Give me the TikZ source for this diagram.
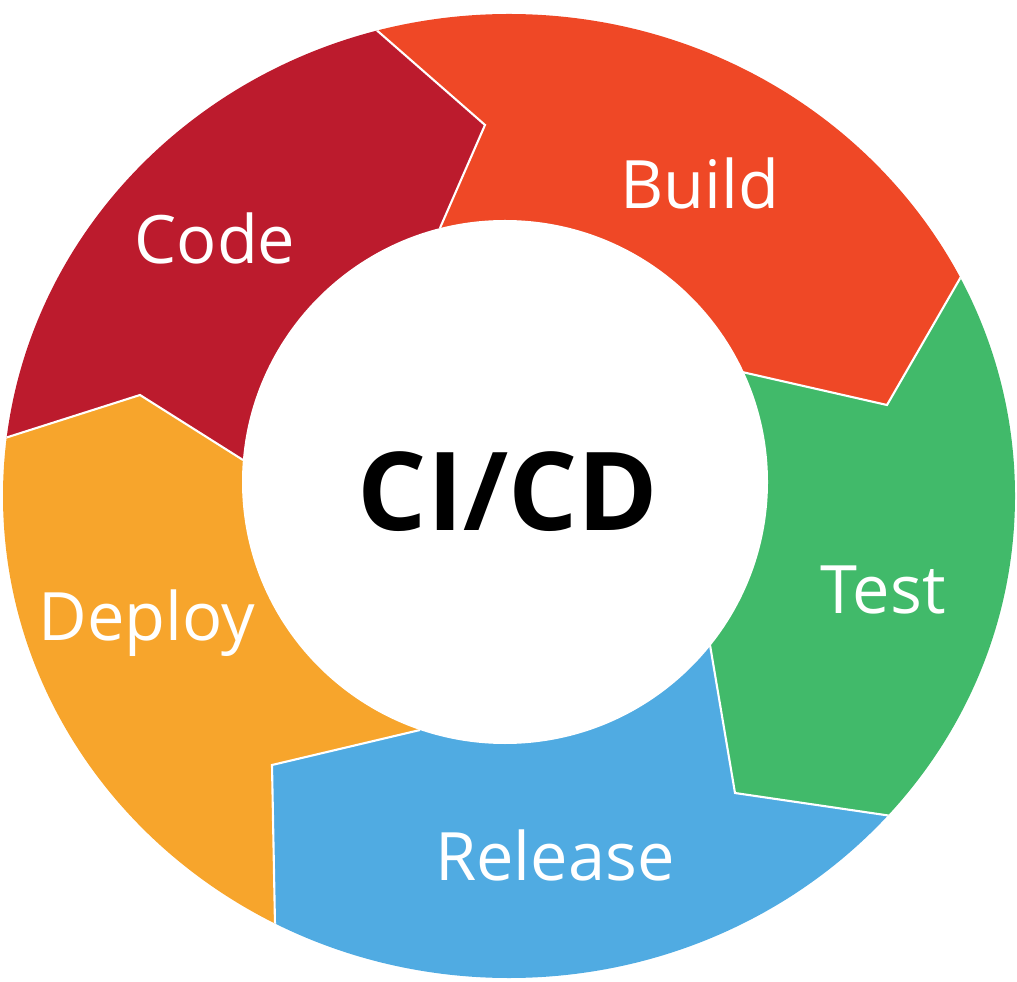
\documentclass[tikz,border=0pt]{standalone}
\usepackage{fontspec}
\setmainfont{Open Sans}
\begin{document}
\begin{tikzpicture}[x=0.02cm,y=-0.02cm,
  lbl/.style={text=white,font=\fontsize{38}{40}\selectfont},
  sep/.style={draw=white,line width=1.2pt,line join=miter}]
\definecolor{ccode}{HTML}{BC1B2D}
\definecolor{cbuild}{HTML}{EF4826}
\definecolor{ctest}{HTML}{41BA6A}
\definecolor{crel}{HTML}{50ABE2}
\definecolor{cdep}{HTML}{F7A52C}
\useasboundingbox (0,0) rectangle (1017,982);
\coordinate (C) at (507,490);
\coordinate (a1) at (440,228); \coordinate (m1) at (485,125); \coordinate (e1) at (5,-295);
\coordinate (a2) at (742,372); \coordinate (m2) at (887,405); \coordinate (e2) at (1187,-115);
\coordinate (a3) at (710,645); \coordinate (m3) at (735,793); \coordinate (e3) at (1335,881);
\coordinate (a4) at (420,730); \coordinate (m4) at (272,765); \coordinate (e4) at (284,1405);
\coordinate (a5) at (243,460); \coordinate (m5) at (140,395); \coordinate (e5) at (-400,567);
\begin{scope}
\clip (509,496) ellipse [x radius=506, y radius=482];
\fill[cbuild] (C)--(a1)--(m1)--(e1)--(1300,-400)--(e2)--(m2)--(a2)--cycle;
\fill[ctest] (C)--(a2)--(m2)--(e2)--(1500,500)--(e3)--(m3)--(a3)--cycle;
\fill[crel] (C)--(a3)--(m3)--(e3)--(1100,1500)--(e4)--(m4)--(a4)--cycle;
\fill[cdep] (C)--(a4)--(m4)--(e4)--(-500,1200)--(e5)--(m5)--(a5)--cycle;
\fill[ccode] (C)--(a5)--(m5)--(e5)--(-400,-300)--(e1)--(m1)--(a1)--cycle;
\draw[sep] (a1)--(m1)--(e1);
\draw[sep] (a2)--(m2)--(e2);
\draw[sep] (a3)--(m3)--(e3);
\draw[sep] (a4)--(m4)--(e4);
\draw[sep] (a5)--(m5)--(e5);
\end{scope}
\fill[white] (505,482) ellipse [x radius=263, y radius=262];
\node (ci) at (508,492) {\fontsize{62}{66}\selectfont\bfseries CI/CD};
\node[lbl] (code) at (215,238) {Code};
\node[lbl] (build) at (700,183) {Build};
\node[lbl] (test) at (883,590) {Test};
\node[lbl] (rel) at (555,855) {Release};
\node[lbl] (dep) at (147,623) {Deploy};
\end{tikzpicture}
\end{document}
